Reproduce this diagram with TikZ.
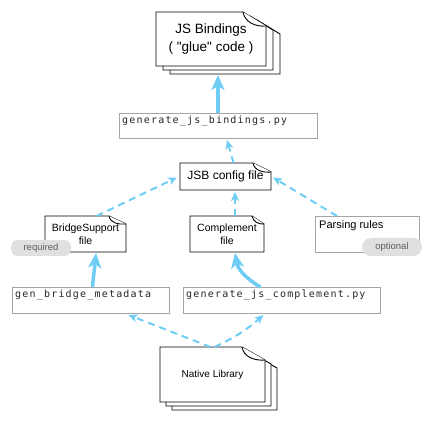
\documentclass[tikz,border=0pt]{standalone}
\usepackage{fontspec}
\setmainfont{Liberation Sans}
\newfontfamily\codefont{DejaVu Sans Mono}[LetterSpace=12]
\usetikzlibrary{arrows.meta,calc,backgrounds}

\definecolor{flowblue}{RGB}{110,205,245}
\definecolor{boxgray}{RGB}{165,165,165}
\definecolor{pillgray}{RGB}{224,224,224}
\definecolor{pilltext}{RGB}{95,95,95}

% one sheet of a document shape: node, corner cut x, corner cut y, offset x, offset y
\newcommand{\docsheet}[5]{%
	\draw[sheet] ([xshift=#4pt,yshift=-#5pt]#1.north west) -- ([xshift=#4pt-#2pt,yshift=-#5pt]#1.north east)
		-- ([xshift=#4pt,yshift=-#5pt-#3pt]#1.north east) -- ([xshift=#4pt,yshift=-#5pt]#1.south east)
		-- ([xshift=#4pt,yshift=-#5pt]#1.south west) -- cycle;}
% the folded corner of the front sheet
\newcommand{\docfold}[3]{%
	\draw[sheet] ([xshift=-#2pt]#1.north east) to[out=-80,in=185] ([yshift=-#3pt]#1.north east);}

\begin{document}
\begin{tikzpicture}[x=1pt,y=-1pt,
	sheet/.style={draw=black,line width=0.9pt,fill=white,line join=miter},
	doc/.style={inner sep=0,outer sep=0,align=center},
	codebox/.style={draw=boxgray,line width=0.9pt,inner sep=0,outer sep=0},
	codetext/.style={font=\codefont\fontsize{10}{12}\selectfont,text=black!85,anchor=north west,inner sep=3pt},
	pill/.style={fill=pillgray,rounded corners=7pt,inner sep=0,minimum height=16pt,text=pilltext,font=\fontsize{9.5}{11}\selectfont},
	thickflow/.style={draw=flowblue,line width=3.5pt,-{Stealth[length=15pt,width=13pt,inset=4pt]}},
	dashflow/.style={draw=flowblue,line width=2pt,dash pattern=on 7pt off 5pt,-{Stealth[length=9pt,width=8pt,inset=2.5pt]}}]
	\useasboundingbox (0,0) rectangle (432,422);

	% documents
	\node[doc,minimum width=110pt,minimum height=54pt,font=\fontsize{13.5}{18}\selectfont] (jsb) at (211,39) {JS Bindings\\( \textquotedbl glue\textquotedbl{} code )};
	\node[doc,minimum width=91pt,minimum height=27pt,font=\fontsize{12}{14}\selectfont] (cfg) at (225.5,176.5) {JSB config file};
	\node[doc,minimum width=81pt,minimum height=36pt,font=\fontsize{10.5}{13}\selectfont] (bsf) at (85.5,234) {BridgeSupport\\file};
	\node[doc,minimum width=74pt,minimum height=36pt,font=\fontsize{10.5}{13}\selectfont] (comp) at (227,234) {Complement\\file};
	\node[doc,minimum width=105pt,minimum height=55pt,font=\fontsize{10}{12}\selectfont] (native) at (212.5,374.5) {Native Library};

	% scripts and inputs
	\node[codebox,minimum width=198pt,minimum height=25pt,label={[codetext]north west:generate\_js\_bindings.py}] (gjb) at (218,125.5) {};
	\node[codebox,minimum width=157pt,minimum height=26pt,label={[codetext]north west:gen\_bridge\_metadata}] (gbm) at (90.5,300) {};
	\node[codebox,minimum width=197pt,minimum height=26pt,label={[codetext]north west:generate\_js\_complement.py}] (gjc) at (281.5,300) {};
	\node[codebox,minimum width=104pt,minimum height=36pt,label={[anchor=north west,inner sep=4pt,font=\fontsize{11}{13}\selectfont]north west:Parsing rules}] (parse) at (367,234) {};

	% tags
	\node[pill,minimum width=60pt] (req) at (41,248) {required};
	\node[pill,minimum width=60pt,minimum height=18pt,rounded corners=9pt] (opt) at (392,247) {optional};

	\begin{pgfonlayer}{background}
		\docsheet{jsb}{23}{14}{14}{8}
		\docsheet{jsb}{23}{14}{7}{4}
		\docsheet{jsb}{23}{14}{0}{0}
		\docfold{jsb}{23}{14}
		\docsheet{native}{23}{13}{12}{8}
		\docsheet{native}{23}{13}{6}{4}
		\docsheet{native}{23}{13}{0}{0}
		\docfold{native}{23}{13}
		\docsheet{cfg}{18}{9}{0}{0}
		\docfold{cfg}{18}{9}
		\docsheet{bsf}{17}{8}{0}{0}
		\docfold{bsf}{17}{8}
		\docsheet{comp}{12}{8}{0}{0}
		\docfold{comp}{12}{8}
	\end{pgfonlayer}

	% flows
	\draw[thickflow] (gjb.north) -- ($(jsb.south)+(7,9)$);
	\draw[dashflow] ($(cfg.north)+(8,0)$) -- ($(gjb.south)+(9,2)$);
	\draw[dashflow] ($(bsf.north)+(11,0)$) -- ($(cfg.west)+(-3,1)$);
	\draw[dashflow] ($(comp.north)+(8,0)$) -- ($(cfg.south)+(9.5,2)$);
	\draw[dashflow] ($(parse.north)+(-30,0)$) -- ($(cfg.east)+(2,1)$);
	\draw[thickflow] ($(gbm.north)+(2,0)$) to[out=85,in=-95] ($(bsf.south)+(10.5,1)$);
	\draw[thickflow] ($(gjc.north)+(-21,0)$) to[out=150,in=-80] ($(comp.south)+(8,1)$);
	\draw[dashflow] ($(native.north)+(-2,0)$) -- ($(gbm.south)+(38,2)$);
	\draw[dashflow] ($(native.north)+(2,0)$) to[bend right=8] ($(gjc.south)+(-18,2)$);
\end{tikzpicture}
\end{document}
